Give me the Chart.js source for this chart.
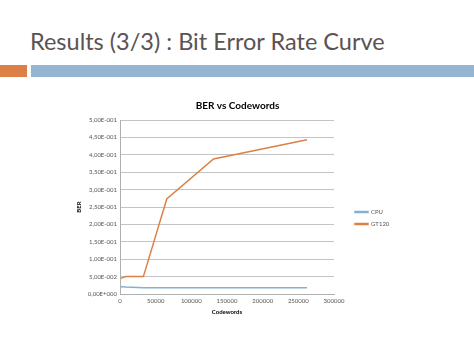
<!DOCTYPE html>
<html>
<head>
<meta charset="utf-8">
<script src="https://cdn.jsdelivr.net/npm/chart.js@4"></script>
<style>
    body { margin: 0; width: 474px; height: 355px; background: #fff; overflow: hidden; position: relative; font-family: Lato, sans-serif; }
    #SlideTitle { position: absolute; left: 30px; top: 27px; font-size: 23.5px; color: #5b5252; white-space: nowrap; }
    #BarOrange { position: absolute; left: 0; top: 65px; width: 27px; height: 12px; background: #dd8047; }
    #BarBlue { position: absolute; left: 31px; top: 65px; width: 443px; height: 12px; background: #94b6d2; }
    #ChartView { position: absolute; left: 0; top: 90px; width: 474px; height: 230px; }
</style>
</head>
<body>
<div id="SlideTitle">Results (3/3) : Bit Error Rate Curve</div>
<div id="BarOrange"></div>
<div id="BarBlue"></div>
<div id="ChartView"><canvas id="myChart" width="474" height="230"></canvas></div>
<script>
// codewords (x) and BER per device
var codewords = [1024, 8192, 32768, 65536, 131072, 262144];
var cpuBer = [0.021, 0.02, 0.018, 0.018, 0.018, 0.018];
var gt120Ber = [0.045, 0.05, 0.05, 0.273, 0.388, 0.443];
var seriesNames = ["CPU", "GT120"];

function toPoints(ys) {
    return codewords.map(function (x, i) { return { x: x, y: ys[i] }; });
}

// 5,00E-001 style labels
function sciLabel(v) {
    if (Math.abs(v) < 1e-12) return "0,00E+000";
    var parts = v.toExponential(2).split("e");
    var exp = parseInt(parts[1], 10);
    var sign = exp < 0 ? "-" : "+";
    var e = String(Math.abs(exp));
    while (e.length < 3) e = "0" + e;
    return parts[0].replace(".", ",") + "E" + sign + e;
}

var tickFont = { family: "Lato", size: 6 };

// nudge the legend a bit right and down, like the original
var legendShift = {
    id: 'legendShift',
    afterLayout: function (chart) {
        var lg = chart.legend;
        if (!lg) return;
        lg.left += 15; lg.right += 15;
        lg.top += 15; lg.bottom += 15;
    }
};

const ctx = document.getElementById('myChart');
new Chart(ctx, {
    type: 'line',
    data: {
        datasets: [{
            label: seriesNames[0],
            data: toPoints(cpuBer),
            borderColor: '#86b0cc',
            backgroundColor: '#86b0cc',
            borderWidth: 1.5,
            pointRadius: 0,
            tension: 0
        }, {
            label: seriesNames[1],
            data: toPoints(gt120Ber),
            borderColor: '#dd8047',
            backgroundColor: '#dd8047',
            borderWidth: 1.5,
            pointRadius: 0,
            tension: 0
        }]
    },
    plugins: [legendShift],
    options: {
        responsive: false,
        animation: false,
        layout: { padding: { left: 75, right: 74, top: 0, bottom: 4 } },
        plugins: {
            title: {
                display: true,
                text: 'BER vs Codewords',
                font: { family: 'Lato', size: 10, weight: 'bold' },
                color: '#000',
                padding: { top: 10, bottom: 8 }
            },
            legend: {
                position: 'right',
                labels: {
                    boxWidth: 13,
                    boxHeight: 1,
                    font: { family: 'Lato', size: 6 },
                    color: '#555',
                    padding: 6
                }
            },
            tooltip: { enabled: false }
        },
        scales: {
            x: {
                type: 'linear',
                min: 0,
                max: 300000,
                ticks: {
                    stepSize: 50000,
                    font: tickFont,
                    color: '#555',
                    maxRotation: 0,
                    callback: function (v) { return String(v); }
                },
                grid: { display: false, drawTicks: false },
                border: { color: '#b0b0b0' },
                title: {
                    display: true,
                    text: 'Codewords',
                    font: { family: 'Lato', size: 6, weight: 'bold' },
                    color: '#000',
                    padding: { top: 2, bottom: 0 }
                },
                afterFit: function (scale) {
                    scale.height = 22;
                    // keep the plot's right edge clear of the legend gap
                    scale.paddingRight = 140;
                }
            },
            y: {
                min: 0,
                max: 0.5,
                ticks: {
                    stepSize: 0.05,
                    font: tickFont,
                    color: '#555',
                    callback: function (v) { return sciLabel(v); }
                },
                grid: { color: '#c4c4c4', drawTicks: false },
                border: { color: '#b0b0b0' },
                title: {
                    display: true,
                    text: 'BER',
                    font: { family: 'Lato', size: 6, weight: 'bold' },
                    color: '#000',
                    padding: 0
                },
                afterFit: function (scale) { scale.width = 45; }
            }
        }
    }
});
</script>
</body>
</html>
